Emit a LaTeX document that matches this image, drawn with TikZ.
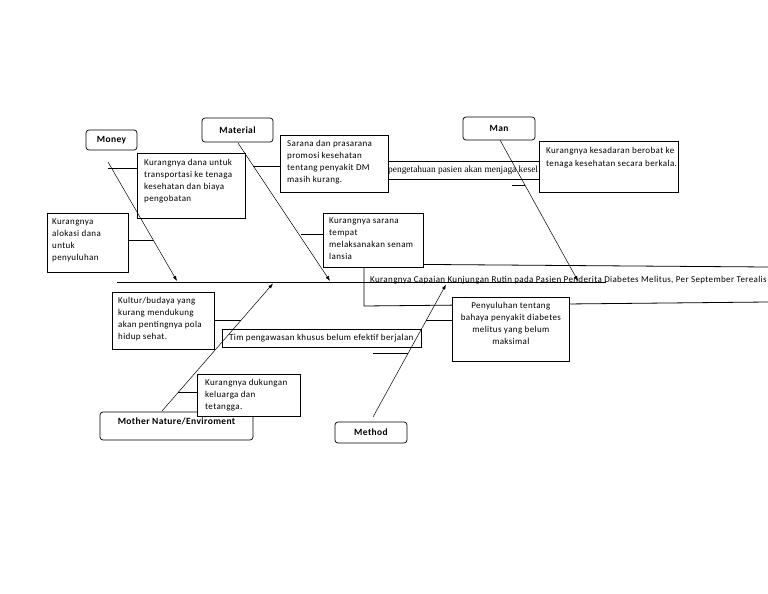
\documentclass[tikz,border=0pt]{standalone}
\usepackage{fontspec}
\setmainfont{Carlito}[LetterSpace=4]
\newfontfamily\stripfont{Liberation Serif}
\usetikzlibrary{arrows.meta,calc}
\begin{document}
\begin{tikzpicture}[x=1pt,y=-1pt,
  box/.style={draw,line width=0.7pt,fill=white,inner sep=0pt,anchor=north west},
  titlebox/.style={draw,line width=0.7pt,rounded corners=3pt,fill=white,inner sep=0pt,
    font=\fontsize{9.5}{11}\selectfont\bfseries},
  txt/.style={inner sep=0pt,anchor=north west,align=left,font=\fontsize{9}{12}\selectfont},
  bone/.style={line width=0.5pt,-{Latex[length=5pt,width=3.5pt]}},
  twig/.style={line width=0.7pt},
  spine/.style={line width=0.8pt},
]
\useasboundingbox (0,0) rectangle (768,594);
\fill[white] (0,0) rectangle (768,594);

% head (fish head, cut by the page edge)
\draw[line width=0.8pt] (768,267) -- (364,264) -- (364,306) -- (768,302);

% spine
\coordinate (sL) at (117,282);
\coordinate (sR) at (606,282);
\draw[spine] (sL) -- (sR);

% head text
\node[inner sep=0pt,anchor=west,font=\fontsize{9}{10}\selectfont] (head) at (370,280)
  {Kurangnya Capaian Kunjungan Rutin pada Pasien Penderita Diabetes Melitus, Per September Terealis};

% strip behind boxes
\node[box,minimum width=154pt,minimum height=18pt] (strip) at (386,161) {};
\node[inner sep=0pt,anchor=west,font=\fontsize{9.4}{10}\stripfont] (striptxt) at (388,170)
  {pengetahuan pasien akan menjaga kesel};

% title boxes
\node[titlebox,minimum width=51pt,minimum height=20pt] (money) at (111.5,140) {Money};
\node[titlebox,minimum width=71pt,minimum height=24pt] (material) at (237.5,130) {Material};
\node[titlebox,minimum width=72pt,minimum height=23pt] (man) at (499,128.5) {Man};
\node[titlebox,minimum width=72pt,minimum height=21pt] (method) at (371,432.5) {Method};
\node[titlebox,minimum width=153pt,minimum height=28pt] (mother) at (176.5,426) {};
\node[inner sep=0pt,font=\fontsize{9.5}{11}\selectfont\bfseries] (mothertxt) at (176.5,421.5) {Mother Nature/Enviroment};

% bone end points
\coordinate (moneyA) at (108,162);
\coordinate (moneyB) at (177,281);
\coordinate (matA) at (238,143);
\coordinate (matB) at (330,281);
\coordinate (manA) at (500,140);
\coordinate (manB) at (578,281);
\coordinate (mothA) at (162,411);
\coordinate (mothB) at (273,283.5);
\coordinate (methA) at (373,417);
\coordinate (methB) at (446,284.5);

% content boxes
\node[box,minimum width=108pt,minimum height=65pt] (b1) at (137,153) {};
\node[txt] (t1) at ($(b1.north west)+(7,6)$) {Kurangnya dana untuk\\transportasi ke tenaga\\kesehatan dan biaya\\pengobatan};

\node[box,minimum width=81pt,minimum height=59pt] (b2) at (47,213) {};
\node[txt] (t2) at ($(b2.north west)+(5,6)$) {Kurangnya\\alokasi dana\\untuk\\penyuluhan};

\node[box,minimum width=108pt,minimum height=57pt] (b3) at (280,135) {};
\node[txt] (t3) at ($(b3.north west)+(7,5)$) {Sarana dan prasarana\\promosi kesehatan\\tentang penyakit DM\\masih kurang.};

\node[box,minimum width=100pt,minimum height=54pt] (b4) at (323,213) {};
\node[txt] (t4) at ($(b4.north west)+(6,5)$) {Kurangnya sarana\\tempat\\melaksanakan senam\\lansia};

\node[box,minimum width=139pt,minimum height=51pt] (b5) at (539,141) {};
\node[txt,font=\fontsize{9}{13}\selectfont] (t5) at ($(b5.north west)+(7,6)$) {Kurangnya kesadaran berobat ke\\tenaga kesehatan secara berkala.};

\node[box,minimum width=102pt,minimum height=57pt] (b6) at (112,292) {};
\node[txt] (t6) at ($(b6.north west)+(6,5)$) {Kultur/budaya yang\\kurang mendukung\\akan pentingnya pola\\hidup sehat.};

\node[box,minimum width=199pt,minimum height=18pt] (b7) at (222,329) {};
\node[inner sep=0pt,anchor=west,font=\fontsize{9}{10}\selectfont] (t7) at (229,338.5) {Tim pengawasan khusus belum efektif berjalan};

\node[box,minimum width=103pt,minimum height=42pt] (b8) at (197,374) {};
\node[txt] (t8) at ($(b8.north west)+(8,5)$) {Kurangnya dukungan\\keluarga dan\\tetangga.};

\node[box,minimum width=117pt,minimum height=64pt] (b9) at (452,297) {};
\node[txt,anchor=north,align=center] (t9) at ($(b9.north)+(0,5)$) {Penyuluhan tentang\\bahaya penyakit diabetes\\melitus yang belum\\maksimal};

% bones
\draw[bone] (moneyA) -- (moneyB);
\draw[bone] (matA) -- (matB);
\draw[bone] (manA) -- (manB);
\draw[bone] (mothA) -- (mothB);
\draw[bone] (methA) -- (methB);

% twigs
\coordinate (tw1) at (108,168);
\draw[twig] (tw1) -- (b1.west |- tw1);
\coordinate (tw2) at (152.5,240);
\draw[twig] (b2.east |- tw2) -- (tw2);
\coordinate (tw3) at (253,166);
\draw[twig] (tw3) -- (b3.west |- tw3);
\coordinate (tw4) at (301,234);
\draw[twig] (tw4) -- (b4.west |- tw4);
\coordinate (tw5a) at (512,185);
\coordinate (tw5b) at (525,185);
\draw[twig] (tw5a) -- (tw5b);
\coordinate (tw6) at (241,320);
\draw[twig] (b6.east |- tw6) -- (tw6);
\coordinate (tw7a) at (373,353);
\coordinate (tw7b) at (408,353);
\draw[twig] (tw7a) -- (tw7b);
\coordinate (tw8) at (178,392);
\draw[twig] (tw8) -- (b8.west |- tw8);
\coordinate (tw9) at (426,320);
\draw[twig] (tw9) -- (b9.west |- tw9);
\end{tikzpicture}
\end{document}
